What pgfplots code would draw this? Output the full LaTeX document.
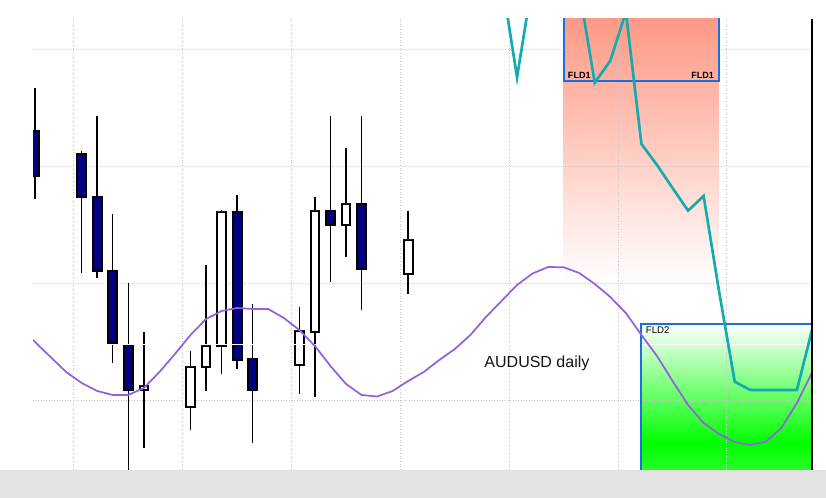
\documentclass[border=0pt]{standalone}
\usepackage{pgfplots}
\pgfplotsset{compat=1.18}
\usepgfplotslibrary{statistics}
\usepackage{fontspec}
\setmainfont{Liberation Sans}
\definecolor{navyc}{RGB}{0,0,128}
\definecolor{purplec}{RGB}{145,98,222}
\definecolor{tealc}{RGB}{18,172,174}
\definecolor{boxc}{RGB}{25,110,225}
\definecolor{salmonc}{RGB}{255,153,133}
\definecolor{greenc}{RGB}{0,255,0}
\definecolor{greenb}{RGB}{40,252,40}
\definecolor{gridc}{RGB}{200,200,200}
\definecolor{bandc}{RGB}{227,227,227}
\definecolor{textc}{RGB}{20,20,20}
\pgfplotsset{
  candle/.style={boxplot/draw direction=y, boxplot/box extend=0.56, boxplot/whisker extend=0,
    draw=black, line width=1.5pt,
    boxplot/every whisker/.style={line width=1.1pt},
    boxplot/every median/.style={draw=none}},
  bear/.style={candle, fill=navyc},
  bull/.style={candle, fill=white},
}
\begin{document}
\begin{tikzpicture}[x=0.75pt,y=0.75pt]
\fill[bandc] (0,0) rectangle (826,28);
\begin{axis}[
  at={(24.75pt,21pt)}, anchor=south west,
  width=584.25pt, height=338.25pt, scale only axis,
  xmin=-0.13, xmax=49.97, ymin=0, ymax=451,
  set layers, clip bounding box=upper bound,
  axis line style={draw=none},
  xtick={2.5,9.5,16.5,23.5,30.5,37.5,44.5},
  ytick={69.7,186.5,303.3,420.1},
  xticklabels={}, yticklabels={},
  major tick length=0pt,
  grid=major,
  major grid style={gridc, line width=0.75pt, dash pattern=on 0.75pt off 1.25pt},
]
% FLD1 red gradient
\addplot[draw=none, top color=salmonc, bottom color=white, on layer=axis background]
  coordinates {(34,188) (34,451) (44,451) (44,188)} -- cycle;
% FLD2 green gradient
\addplot[draw=none, top color=white, bottom color=greenc, on layer=axis background]
  coordinates {(39,27) (39,146) (49.97,146) (49.97,27)} -- cycle;
\addplot[draw=none, top color=greenc, bottom color=greenb, on layer=axis background]
  coordinates {(39,0) (39,27) (49.97,27) (49.97,0)} -- cycle;

% candles
\addplot[bear, boxplot prepared={draw position=0, lower whisker=271, lower quartile=294, median=339, upper quartile=339, upper whisker=382}] coordinates {};
\addplot[bear, boxplot prepared={draw position=3, lower whisker=197, lower quartile=273, median=316, upper quartile=316, upper whisker=319}] coordinates {};
\addplot[bear, boxplot prepared={draw position=4, lower whisker=192, lower quartile=199, median=273, upper quartile=273, upper whisker=354}] coordinates {};
\addplot[bear, boxplot prepared={draw position=5, lower whisker=107, lower quartile=127, median=199, upper quartile=199, upper whisker=256}] coordinates {};
\addplot[bear, boxplot prepared={draw position=6, lower whisker=-3, lower quartile=80, median=125, upper quartile=125, upper whisker=187}] coordinates {};
\addplot[bull, boxplot prepared={draw position=7, lower whisker=22, lower quartile=80, median=84, upper quartile=84, upper whisker=138}] coordinates {};
\addplot[bull, boxplot prepared={draw position=10, lower whisker=40, lower quartile=63, median=103, upper quartile=103, upper whisker=119}] coordinates {};
\addplot[bull, boxplot prepared={draw position=11, lower whisker=79, lower quartile=103, median=124, upper quartile=124, upper whisker=205}] coordinates {};
\addplot[bull, boxplot prepared={draw position=12, lower whisker=96, lower quartile=124, median=258, upper quartile=258, upper whisker=260}] coordinates {};
\addplot[bear, boxplot prepared={draw position=13, lower whisker=101, lower quartile=110, median=258, upper quartile=258, upper whisker=275}] coordinates {};
\addplot[bear, boxplot prepared={draw position=14, lower whisker=27, lower quartile=80, median=111, upper quartile=111, upper whisker=166}] coordinates {};
\addplot[bull, boxplot prepared={draw position=17, lower whisker=76, lower quartile=105, median=139, upper quartile=139, upper whisker=163}] coordinates {};
\addplot[bull, boxplot prepared={draw position=18, lower whisker=73, lower quartile=138, median=259, upper quartile=259, upper whisker=273}] coordinates {};
\addplot[bear, boxplot prepared={draw position=19, lower whisker=188, lower quartile=245, median=259, upper quartile=259, upper whisker=354}] coordinates {};
\addplot[bull, boxplot prepared={draw position=20, lower whisker=213, lower quartile=245, median=266, upper quartile=266, upper whisker=322}] coordinates {};
\addplot[bear, boxplot prepared={draw position=21, lower whisker=160, lower quartile=201, median=266, upper quartile=266, upper whisker=354}] coordinates {};
\addplot[bull, boxplot prepared={draw position=24, lower whisker=176, lower quartile=196, median=230, upper quartile=230, upper whisker=259}] coordinates {};

% thin white level line
\addplot[white, line width=0.75pt] coordinates {(-1,125.7) (51,125.7)};

% FLD boxes
\addplot[boxc, line width=1.5pt] coordinates {(34,470) (34,389.3) (44,389.3) (44,470)};
\addplot[boxc, line width=1.5pt] coordinates {(39,-5) (39,146) (51,146)};

% purple cycle line
\addplot[purplec, line width=1.3pt] coordinates {
(-0.13,130) (0,128) (1,113) (2,98) (3,87) (4,79) (5,75) (6,75) (7,82) (8,98)
(9,116) (10,135) (11,151) (12,159) (13,162) (14,161) (15,161) (16,152) (17,140)
(18,124) (19,104) (20,86) (21,75) (22,73.5) (23,79) (24,89) (25,98) (26,110)
(27,121) (28,135) (29,153) (30,169) (31,185) (32,196.5) (33,203) (34,202.7)
(35,197) (36,186) (37,173) (38,157) (39,135) (40,114) (41,89) (42,65) (43,47)
(44,36) (45,28) (46,25) (47,28.3) (48,42) (49,67) (50,98.3)};

% teal projection line
\addplot[tealc, line width=2pt] coordinates {
(30,491.8) (31,392.7) (32,489) (33,510) (34,500) (35,480) (36,387.3) (37,409.3)
(38,458) (39,326) (40,305) (41,282) (42,259.3) (43,274) (44,178) (45,88.3)
(46,80) (47,80) (48,80) (49,80) (50,141.7)};

\node[font=\bfseries\fontsize{6.8}{8}\selectfont, anchor=base west, inner sep=0pt] at (axis cs:34.26,391.7) {FLD1};
\node[font=\bfseries\fontsize{6.8}{8}\selectfont, anchor=base east, inner sep=0pt] at (axis cs:43.68,391.7) {FLD1};
\node[font=\fontsize{7.2}{8}\selectfont, anchor=base west, inner sep=0pt] at (axis cs:39.27,136.7) {FLD2};
\node[font=\fontsize{12}{14}\selectfont, text=textc, anchor=base, inner sep=0pt] at (axis cs:32.28,102.7) {AUDUSD daily};
\end{axis}
\draw[black, line width=1pt] (812,28) -- (812,479);
\path (0,0) rectangle (826,498);
\end{tikzpicture}
\end{document}
